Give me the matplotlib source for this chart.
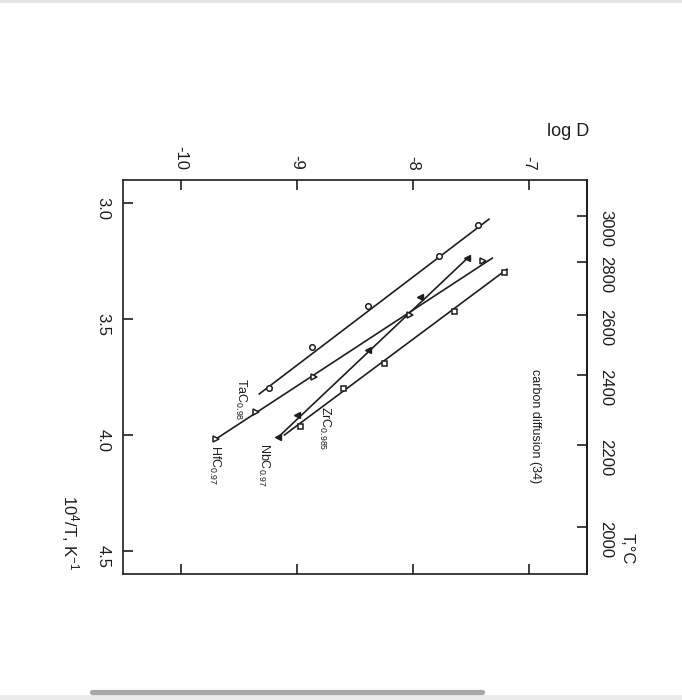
import numpy as np
import matplotlib.pyplot as plt
from matplotlib.lines import Line2D

plt.rcParams['font.family'] = ['Liberation Sans', 'DejaVu Sans']
plt.rcParams['mathtext.fontset'] = 'custom'
plt.rcParams['mathtext.rm'] = 'Liberation Sans'
plt.rcParams['mathtext.default'] = 'regular'
plt.rcParams['axes.unicode_minus'] = False

# log D tick values / labels (top axis), 10^4/T ticks (left), T in C (right)
logd_ticks = [-10, -9, -8, -7]
logd_labels = ['-10', '-9', '-8', '-7']
invt_ticks = [3.0, 3.5, 4.0, 4.5]
invt_labels = ['3.0', '3.5', '4.0', '4.5']
tc_ticks = [3000, 2800, 2600, 2400, 2200, 2000]

# carbon diffusion data: (10^4/T, log D)
tac_invt = [3.094, 3.227, 3.443, 3.622, 3.799]
tac_logd = [-7.44, -7.78, -8.39, -8.87, -9.24]
tac_line_invt = [3.069, 3.823]
tac_line_logd = [-7.345, -9.325]

hfc_invt = [3.249, 3.483, 3.748, 3.902, 4.017]
hfc_logd = [-7.394, -8.026, -8.851, -9.351, -9.697]
hfc_line_invt = [3.237, 4.017]
hfc_line_logd = [-7.316, -9.697]

zrc_invt = [3.296, 3.464, 3.688, 3.797, 3.963]
zrc_logd = [-7.215, -7.648, -8.254, -8.606, -8.976]
zrc_line_invt = [3.285, 4.0]
zrc_line_logd = [-7.19, -9.108]

nbc_invt = [3.238, 3.405, 3.632, 3.914, 4.010]
nbc_logd = [-7.532, -7.939, -8.390, -9.004, -9.163]
nbc_line_invt = [3.238, 4.010]
nbc_line_logd = [-7.532, -9.163]

ink = '#1e1e1e'

fig = plt.figure(figsize=(6.82, 7.0), dpi=100)
ax = fig.add_axes([123 / 682, 126 / 700, 464 / 682, 394 / 700])

# the chart is a scan turned on its side: log D runs across, 10^4/T runs down
for lx, ly in [(tac_line_logd, tac_line_invt), (hfc_line_logd, hfc_line_invt),
               (zrc_line_logd, zrc_line_invt), (nbc_line_logd, nbc_line_invt)]:
    ax.plot(lx, ly, color=ink, lw=1.2)

ax.plot(tac_logd, tac_invt, 'o', ms=4, mfc='white', mec=ink, mew=1.1, ls='none')
ax.plot(hfc_logd, hfc_invt, '>', ms=4.5, mfc='white', mec=ink, mew=1.1, ls='none')
ax.plot(zrc_logd, zrc_invt, 's', ms=3.6, mfc='white', mec=ink, mew=1.1, ls='none')
ax.plot(nbc_logd, nbc_invt, '<', ms=4.5, mfc=ink, mec=ink, ls='none')

ax.set_xlim(-10.5, -6.5)
ax.set_ylim(4.6, 2.9)

ax.xaxis.tick_top()
ax.set_xticks(logd_ticks)
ax.set_xticklabels(logd_labels)
ax.set_yticks(invt_ticks)
ax.set_yticklabels(invt_labels)
ax.tick_params(axis='x', which='both', direction='in', top=True, bottom=True,
               length=7, width=1.2, pad=7, labelsize=12, labelrotation=270,
               colors=ink)
ax.tick_params(axis='y', direction='in', left=True, right=False,
               length=7, width=1.2, pad=9, labelsize=12, labelrotation=270,
               colors=ink)
for s in ax.spines.values():
    s.set_linewidth(1.2)
    s.set_color(ink)

sec = ax.secondary_yaxis('right', functions=(lambda v: 1e4 / v - 273.15,
                                              lambda t: 1e4 / (t + 273.15)))
sec.set_yticks(tc_ticks)
sec.set_yticklabels([str(t) for t in tc_ticks])
sec.tick_params(direction='in', length=7, width=1.2, pad=8, labelsize=12,
                labelrotation=270, colors=ink)
sec.spines['right'].set_linewidth(1.2)

# axis titles
fig.text(568 / 682, 1 - 132 / 700, 'log D', fontsize=13, ha='center', va='center', color=ink)
fig.text(627 / 682, 1 - 549 / 700, 'T,°C', fontsize=12, rotation=270,
         ha='center', va='center', color=ink)
fig.text(70 / 682, 1 - 533 / 700, r'10$^4$/T, K$^{-1}$', fontsize=12, rotation=270,
         ha='center', va='center', color=ink)

ax.text(-6.945, 3.963, 'carbon diffusion (34)', fontsize=9, rotation=270,
        ha='center', va='center', color=ink)

# series labels
ax.text(-9.49, 3.845, r'TaC$_{0.98}$', fontsize=9, rotation=270, ha='center', va='center', color=ink)
ax.text(-9.71, 4.13, r'HfC$_{0.97}$', fontsize=9, rotation=270, ha='center', va='center', color=ink)
ax.text(-8.76, 3.969, r'ZrC$_{0.985}$', fontsize=9, rotation=270, ha='center', va='center', color=ink)
ax.text(-9.29, 4.128, r'NbC$_{0.97}$', fontsize=9, rotation=270, ha='center', va='center', color=ink)

# viewer chrome around the scan
fig.add_artist(plt.Rectangle((0, 1 - 3 / 700), 1, 3 / 700, transform=fig.transFigure,
                             color='#e4e4e4', lw=0))
fig.add_artist(plt.Rectangle((0, 0), 1, 5 / 700, transform=fig.transFigure,
                             color='#ececec', lw=0))
fig.add_artist(Line2D([92 / 682, 482 / 682], [1 - 691.5 / 700, 1 - 691.5 / 700],
                      transform=fig.transFigure, lw=3.8, color='#a8a8a8',
                      solid_capstyle='round'))

fig.savefig('out.png', dpi=100)
